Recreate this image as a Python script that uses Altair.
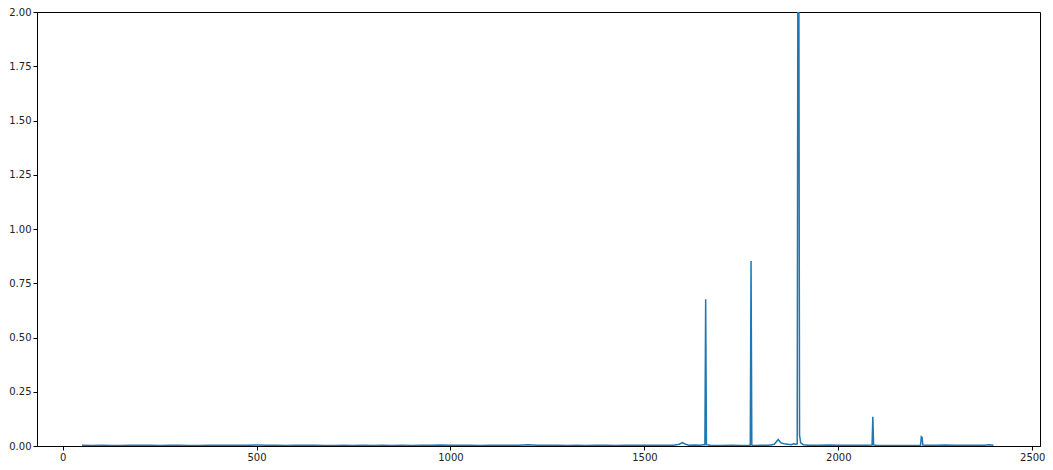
import altair as alt
import pandas as pd

xs = [50, 75, 100, 125, 150, 175, 200, 225, 250, 275, 300, 325, 350, 375, 400, 425, 450, 475,
      500, 525, 550, 575, 600, 625, 650, 675, 700, 725, 750, 775, 800, 825, 850, 875, 900, 925,
      950, 975, 1000, 1025, 1050, 1075, 1100, 1125, 1150, 1175, 1200, 1225, 1250, 1275, 1300,
      1325, 1350, 1375, 1400, 1425, 1450, 1475, 1500, 1525, 1550, 1575, 1590, 1598, 1606, 1615,
      1630, 1645, 1652, 1656, 1658, 1660, 1670, 1700, 1725, 1750, 1770, 1773, 1775, 1777, 1785,
      1800, 1820, 1835, 1845, 1852, 1860, 1870, 1878, 1885, 1890, 1894, 1896, 1898, 1900, 1903,
      1910, 1925, 1950, 1975, 2000, 2025, 2050, 2075, 2087, 2089, 2091, 2100, 2125, 2150, 2175,
      2200, 2212, 2214, 2216, 2218, 2230, 2250, 2275, 2300, 2325, 2350, 2375, 2390, 2400]
ys = [0.003, 0.002, 0.003, 0.002, 0.002, 0.003, 0.004, 0.003, 0.002, 0.003, 0.003, 0.002, 0.002,
      0.003, 0.004, 0.003, 0.004, 0.003, 0.005, 0.004, 0.003, 0.002, 0.003, 0.004, 0.003, 0.002,
      0.002, 0.003, 0.002, 0.003, 0.002, 0.003, 0.002, 0.003, 0.002, 0.003, 0.004, 0.005, 0.004,
      0.003, 0.003, 0.002, 0.003, 0.004, 0.003, 0.004, 0.006, 0.004, 0.003, 0.003, 0.002, 0.003,
      0.002, 0.003, 0.003, 0.002, 0.003, 0.003, 0.004, 0.003, 0.003, 0.004, 0.008, 0.016, 0.008,
      0.004, 0.005, 0.004, 0.006, 0.006, 0.676, 0.006, 0.003, 0.002, 0.003, 0.002, 0.003, 0.004,
      0.853, 0.004, 0.002, 0.003, 0.004, 0.008, 0.030, 0.014, 0.010, 0.008, 0.006, 0.010, 0.008,
      0.010, 2.5, 2.5, 0.05, 0.015, 0.006, 0.003, 0.004, 0.005, 0.003, 0.003, 0.003, 0.004,
      0.005, 0.135, 0.005, 0.002, 0.002, 0.002, 0.002, 0.002, 0.003, 0.043, 0.040, 0.004, 0.003,
      0.004, 0.005, 0.003, 0.004, 0.003, 0.004, 0.006, 0.003]

x_ticks = [0, 500, 1000, 1500, 2000, 2500]
y_ticks = [0.0, 0.25, 0.5, 0.75, 1.0, 1.25, 1.5, 1.75, 2.0]

df = pd.DataFrame({"x": xs, "y": ys})

axis_style = dict(grid=False, domainColor="black", tickColor="black", tickSize=4,
                  labelFontSize=10, labelColor="#222", labelFont="DejaVu Sans", labelPadding=2)

chart = alt.Chart(df).mark_line(color="#1f77b4", strokeWidth=1.5, clip=True).encode(
    x=alt.X("x:Q", title=None,
            scale=alt.Scale(domain=[-66, 2520], nice=False, zero=False),
            axis=alt.Axis(values=x_ticks, format="d", **axis_style)),
    y=alt.Y("y:Q", title=None,
            scale=alt.Scale(domain=[0, 2], nice=False, zero=True),
            axis=alt.Axis(values=y_ticks, format=".2f", **axis_style)),
).properties(
    width=1003, height=434,
    autosize=alt.AutoSizeParams(type="none"),
    padding={"left": 29, "top": 4, "right": 5, "bottom": 20},
).configure_view(stroke="black", strokeWidth=1)

chart.save("out.html", embed_options={"renderer": "svg", "actions": False})
